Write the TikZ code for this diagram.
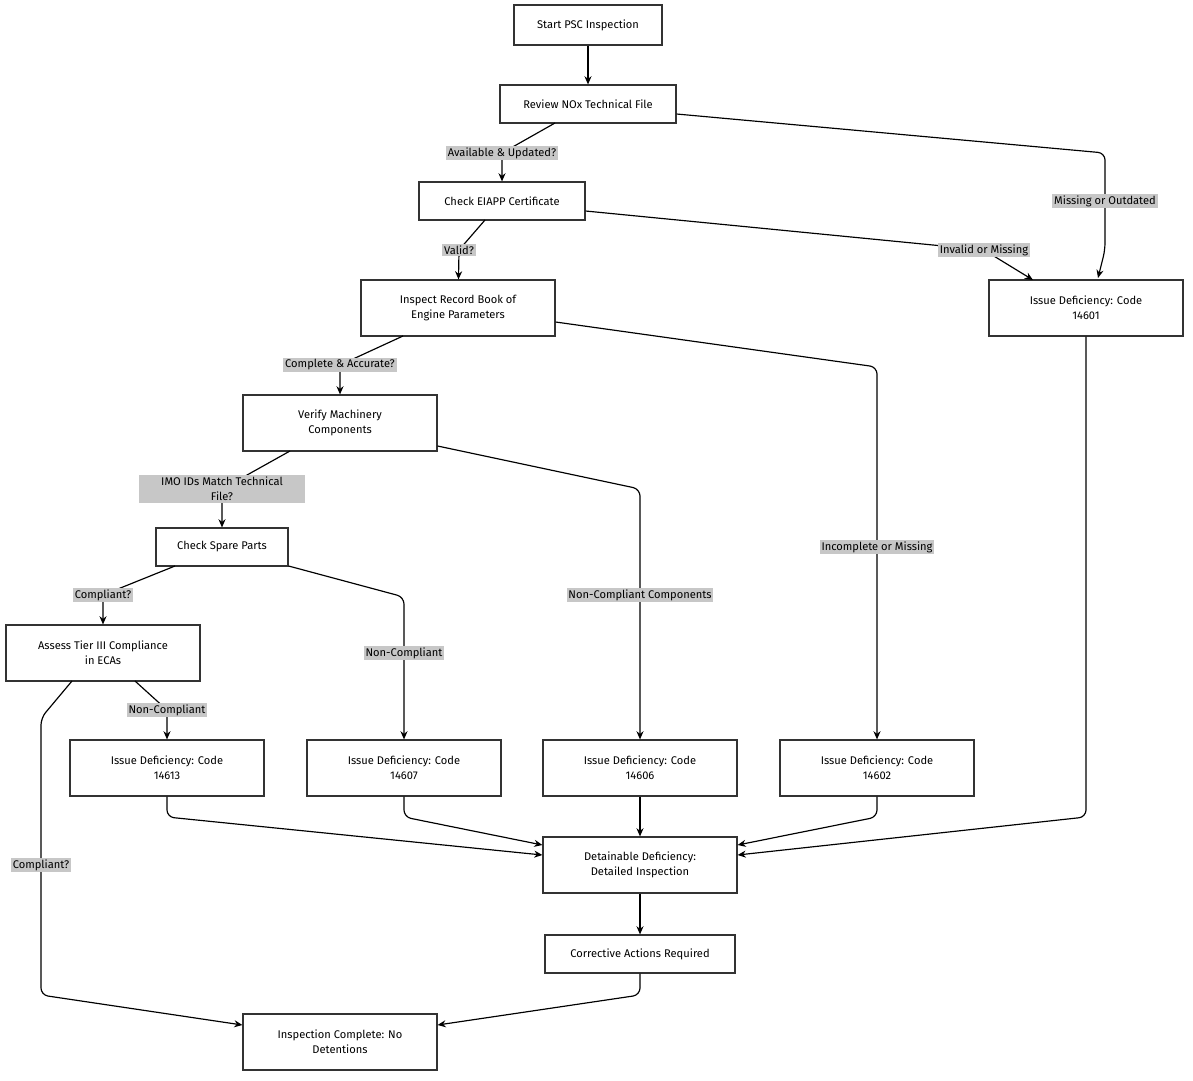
\documentclass[tikz,border=0pt]{standalone}
\usepackage{fontspec}
\setmainfont{Fira Sans}
\usetikzlibrary{arrows.meta}
\tikzset{
  box/.style={draw=black!80, line width=1pt, fill=white, align=center, font=\fontsize{9.5}{13}\selectfont, inner sep=0pt},
  lbl/.style={fill=black!22, align=center, font=\fontsize{9.5}{13}\selectfont, inner sep=1.5pt},
  flow/.style={line width=1pt, -{Stealth[length=7pt,width=6pt]}, rounded corners=6pt},
}
\begin{document}
\begin{tikzpicture}[x=0.03cm,y=-0.03cm]
\useasboundingbox (0,0) rectangle (1193,1080);
%nodes
\node[box, minimum width=148*0.03cm, minimum height=40*0.03cm] (start) at (588,25) {Start PSC Inspection};
\node[box, minimum width=176*0.03cm, minimum height=38*0.03cm] (review) at (588,104) {Review NOx Technical File};
\node[box, minimum width=166*0.03cm, minimum height=38*0.03cm] (eiapp) at (502,201) {Check EIAPP Certificate};
\node[box, minimum width=194*0.03cm, minimum height=56*0.03cm] (record) at (458,308) {Inspect Record Book of\\Engine Parameters};
\node[box, minimum width=194*0.03cm, minimum height=56*0.03cm] (verify) at (340,423) {Verify Machinery\\Components};
\node[box, minimum width=132*0.03cm, minimum height=38*0.03cm] (spare) at (222,547) {Check Spare Parts};
\node[box, minimum width=194*0.03cm, minimum height=56*0.03cm] (tier) at (103,653) {Assess Tier III Compliance\\in ECAs};
\foreach \code/\x in {14613/167,14607/404,14606/640,14602/877}
  \node[box, minimum width=194*0.03cm, minimum height=56*0.03cm] (d\code) at (\x,768) {Issue Deficiency: Code\\\code};
\node[box, minimum width=194*0.03cm, minimum height=56*0.03cm] (d14601) at (1086,308) {Issue Deficiency: Code\\14601};
\node[box, minimum width=194*0.03cm, minimum height=56*0.03cm] (detain) at (640,865) {Detainable Deficiency:\\Detailed Inspection};
\node[box, minimum width=190*0.03cm, minimum height=38*0.03cm] (corrective) at (640,954) {Corrective Actions Required};
\node[box, minimum width=194*0.03cm, minimum height=56*0.03cm] (complete) at (340,1042) {Inspection Complete: No\\Detentions};
%connectors
\draw[flow] (start) -- (review);
\draw[flow] (555,123) -- (502,153) -- (eiapp);
\draw[flow] (review.east|-0,114) -- (1105,153) -- (1105,250) -- (1098,278);
\draw[flow] (485,220) -- (459,250) -- (record);
\draw[flow] (eiapp.east|-0,211) -- (984,250) -- (1033,280);
\draw[flow] (403,336) -- (340,365) -- (verify);
\draw[flow] (record.east|-0,322) -- (877,367) -- (d14602);
\draw[flow] (290,451) -- (222,489) -- (spare);
\draw[flow] (verify.east|-0,446) -- (640,489) -- (d14606);
\draw[flow] (175,566) -- (103,595) -- (tier);
\draw[flow] (spare.east|-0,566) -- (404,597) -- (d14607);
\draw[flow] (135,681) -- (167,710) -- (d14613);
\draw[flow] (72,681) -- (41,718) -- (41,995) -- (complete.west|-0,1025);
\draw[flow] (d14613) -- (167,817) -- (detain.west|-0,855);
\draw[flow] (d14607) -- (404,817) -- (detain.west|-0,845);
\draw[flow] (d14606) -- (detain);
\draw[flow] (d14602) -- (877,817) -- (detain.east|-0,845);
\draw[flow] (d14601) -- (1086,817) -- (detain.east|-0,855);
\draw[flow] (detain) -- (corrective);
\draw[flow] (corrective) -- (640,995) -- (complete.east|-0,1025);
%labels
\node[lbl] (l1) at (502,153) {Available \& Updated?};
\node[lbl] (l2) at (1105,201) {Missing or Outdated};
\node[lbl] (l3) at (459,250) {Valid?};
\node[lbl] (l4) at (984,250) {Invalid or Missing};
\node[lbl] (l5) at (340,365) {Complete \& Accurate?};
\node[lbl] (l6) at (877,547) {Incomplete or Missing};
\node[lbl, minimum width=166*0.03cm] (l7) at (222,489) {IMO IDs Match Technical\\File?};
\node[lbl] (l8) at (640,595) {Non-Compliant Components};
\node[lbl] (l9) at (103,595) {Compliant?};
\node[lbl] (l10) at (404,653) {Non-Compliant};
\node[lbl] (l11) at (167,710) {Non-Compliant};
\node[lbl] (l12) at (41,865) {Compliant?};
\end{tikzpicture}
\end{document}
